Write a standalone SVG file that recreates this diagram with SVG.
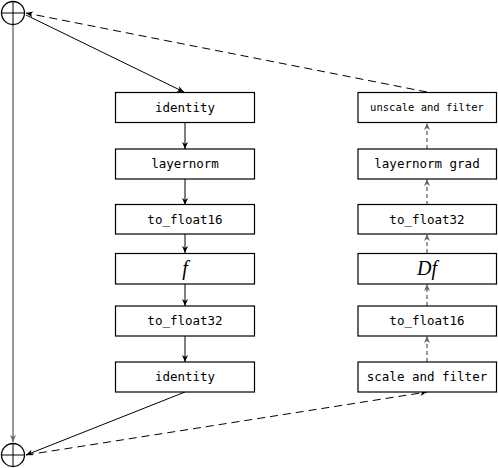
<svg xmlns="http://www.w3.org/2000/svg" width="498" height="468" viewBox="0 0 498 468">
<defs>
<marker id="ah" markerWidth="8" markerHeight="8" refX="7" refY="3" orient="auto" markerUnits="userSpaceOnUse">
<path d="M0,0 L7,3 L0,6 L2,3 z" fill="#000"/>
</marker>
<marker id="ahg" markerWidth="8" markerHeight="8" refX="7" refY="3" orient="auto" markerUnits="userSpaceOnUse">
<path d="M0,0 L7,3 L0,6 L2,3 z" fill="#666"/>
</marker>
<style>
.box{fill:#fff;stroke:#000;stroke-width:1.2}
.t{font-family:"DejaVu Sans Mono","Liberation Mono",monospace;font-size:12.5px;text-anchor:middle;fill:#000}
.m{font-family:"Liberation Serif","DejaVu Serif",serif;font-style:italic;font-size:20px;text-anchor:middle;fill:#000}
.sol{stroke:#000;stroke-width:1;fill:none;marker-end:url(#ah)}
.dsh{stroke:#000;stroke-width:1;fill:none;stroke-dasharray:8,5;marker-end:url(#ah)}
.dshs{stroke:#555;stroke-width:1.2;fill:none;stroke-dasharray:4,3;marker-end:url(#ahg)}
.circ{fill:#fff;stroke:#000;stroke-width:1.3}
</style>
</defs>
<g id="connectors">
<line x1="13" y1="25" x2="13" y2="442" stroke="#777" stroke-width="1.5" marker-end="url(#ahg)"/>
<line class="sol" x1="26" y1="15" x2="184" y2="92"/>
<line class="dsh" x1="427" y1="92" x2="26" y2="13"/>
<line class="sol" x1="185" y1="392" x2="26" y2="455"/>
<line class="dsh" x1="26" y1="455" x2="427" y2="392"/>
<line class="sol" x1="185" y1="123" x2="185" y2="149"/>
<line class="sol" x1="185" y1="179" x2="185" y2="205"/>
<line class="sol" x1="185" y1="234" x2="185" y2="253"/>
<line class="sol" x1="185" y1="284" x2="185" y2="306"/>
<line class="sol" x1="185" y1="336" x2="185" y2="362"/>
<line class="dshs" x1="427" y1="362" x2="427" y2="336"/>
<line class="dshs" x1="427" y1="306" x2="427" y2="284"/>
<line class="dshs" x1="427" y1="253" x2="427" y2="234"/>
<line class="dshs" x1="427" y1="205" x2="427" y2="179"/>
<line class="dshs" x1="427" y1="149" x2="427" y2="123"/>
</g>
<g id="sum_top"><circle class="circ" cx="13" cy="13" r="11.5"/><line x1="1.5" y1="13" x2="24.5" y2="13" stroke="#000"/><line x1="13" y1="1.5" x2="13" y2="24.5" stroke="#000"/></g>
<g id="sum_bottom"><circle class="circ" cx="13" cy="455" r="11.5"/><line x1="1.5" y1="455" x2="24.5" y2="455" stroke="#000"/><line x1="13" y1="443.5" x2="13" y2="466.5" stroke="#000"/></g>
<g id="l_identity"><rect class="box" x="115.5" y="92.5" width="139" height="30"/><text class="t" x="185" y="111.5">identity</text></g>
<g id="l_layernorm"><rect class="box" x="115.5" y="149" width="139" height="30"/><text class="t" x="185" y="168">layernorm</text></g>
<g id="l_to_float16"><rect class="box" x="115.5" y="204.5" width="139" height="29.5"/><text class="t" x="185" y="223.5">to_float16</text></g>
<g id="l_f"><rect class="box" x="115.5" y="253.5" width="139" height="30.5"/><text class="m" x="185" y="275">f</text></g>
<g id="l_to_float32"><rect class="box" x="115.5" y="306" width="139" height="30"/><text class="t" x="185" y="325">to_float32</text></g>
<g id="l_identity2"><rect class="box" x="115.5" y="362" width="139" height="30"/><text class="t" x="185" y="381">identity</text></g>
<g id="r_unscale"><rect class="box" x="358" y="92.5" width="138.5" height="30"/><text class="t" x="427" y="111" style="font-size:10.5px">unscale and filter</text></g>
<g id="r_layernorm_grad"><rect class="box" x="358" y="149" width="138.5" height="30"/><text class="t" x="427" y="168">layernorm grad</text></g>
<g id="r_to_float32"><rect class="box" x="358" y="204.5" width="138.5" height="29.5"/><text class="t" x="427" y="223.5">to_float32</text></g>
<g id="r_Df"><rect class="box" x="358" y="253.5" width="138.5" height="30.5"/><text class="m" x="427" y="275">Df</text></g>
<g id="r_to_float16"><rect class="box" x="358" y="306" width="138.5" height="30"/><text class="t" x="427" y="325">to_float16</text></g>
<g id="r_scale"><rect class="box" x="358" y="362" width="138.5" height="30"/><text class="t" x="427" y="381">scale and filter</text></g>
</svg>
